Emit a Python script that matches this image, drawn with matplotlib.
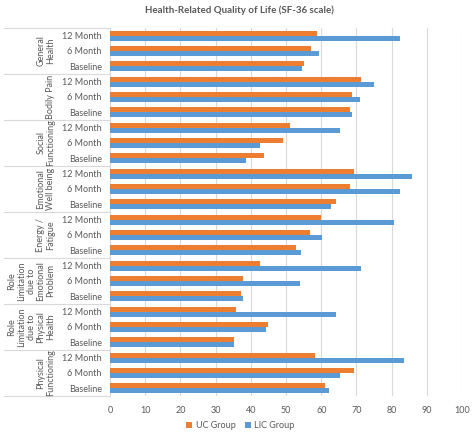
import numpy as np
from matplotlib import pyplot as plt

plt.rcParams['font.family'] = ['Lato', 'DejaVu Sans']

groups = ['General\nHealth', 'Bodily Pain', 'Social\nFunctioning', 'Emotional\nWell being',
          'Energy /\nFatigue', 'Role\nLimitation\ndue to\nEmotional\nProblem',
          'Role\nLimitation\ndue to\nPhysical\nHealth', 'Physical\nFunctioning']
times = ['12 Month', '6 Month', 'Baseline']

# values per group, order: 12 Month, 6 Month, Baseline
uc_group = [
    [58.9, 57.0, 55.2],
    [71.2, 68.7, 68.1],
    [51.0, 49.1, 43.8],
    [69.4, 68.1, 64.3],
    [60.0, 56.9, 52.9],
    [42.6, 37.8, 37.2],
    [35.7, 44.8, 35.2],
    [58.1, 69.4, 61.0],
]
lic_group = [
    [82.3, 59.4, 54.4],
    [74.9, 71.0, 68.6],
    [65.4, 42.5, 38.7],
    [85.7, 82.3, 62.9],
    [80.6, 60.3, 54.3],
    [71.2, 54.1, 37.7],
    [64.3, 44.3, 35.2],
    [83.5, 65.4, 62.3],
]

text_col = '#595959'
grid_col = '#D9D9D9'
fs = 6.5

fig = plt.figure(figsize=(4.74, 4.33), dpi=100)
ax = fig.add_axes([0.232, 0.0855, 0.743, 0.85])

uc = np.array(uc_group).ravel()
lic = np.array(lic_group).ravel()
y = np.arange(len(uc))
h = 0.33
ax.barh(y - h / 2, uc, height=h, color='#ED7D31', label='UC Group', zorder=3)
ax.barh(y + h / 2, lic, height=h, color='#5B9BD5', label='LIC Group', zorder=3)

ax.set_xlim(0, 100)
ax.set_ylim(len(uc) - 0.5, -0.5)
ax.set_xticks(range(0, 101, 10))
ax.set_yticks(y)
ax.set_yticklabels(times * len(groups))
ax.tick_params(length=0, labelsize=fs, colors=text_col, pad=7)
ax.tick_params(axis='y', pad=6)
ax.xaxis.grid(True, color=grid_col, lw=0.8, zorder=0)
for s in ['top', 'right', 'bottom']:
    ax.spines[s].set_visible(False)
ax.spines['left'].set_color(grid_col)

# group labels and separators in the category area
tr = ax.get_yaxis_transform()
left = -106 / 352
for i in range(len(groups) + 1):
    ax.plot([left, 0], [i * 3 - 0.5] * 2, color=grid_col, lw=0.8,
            transform=tr, clip_on=False)
for i, g in enumerate(groups):
    ax.text(-55 / 352, i * 3 + 1, g, transform=tr, rotation=90, ha='right',
            va='center', multialignment='center', fontsize=fs, color=text_col,
            linespacing=1.1)

fig.text(0.506, 0.977, 'Health-Related Quality of Life (SF-36 scale)', fontsize=7,
         fontweight='bold', color=text_col, ha='center', va='center')
ax.legend(loc='lower center', bbox_to_anchor=(0.37, -0.115), ncol=2, frameon=False,
          fontsize=fs, handlelength=0.7, handleheight=0.7, columnspacing=1.0,
          handletextpad=0.4, labelcolor=text_col)

fig.savefig('out.png', dpi=100)
